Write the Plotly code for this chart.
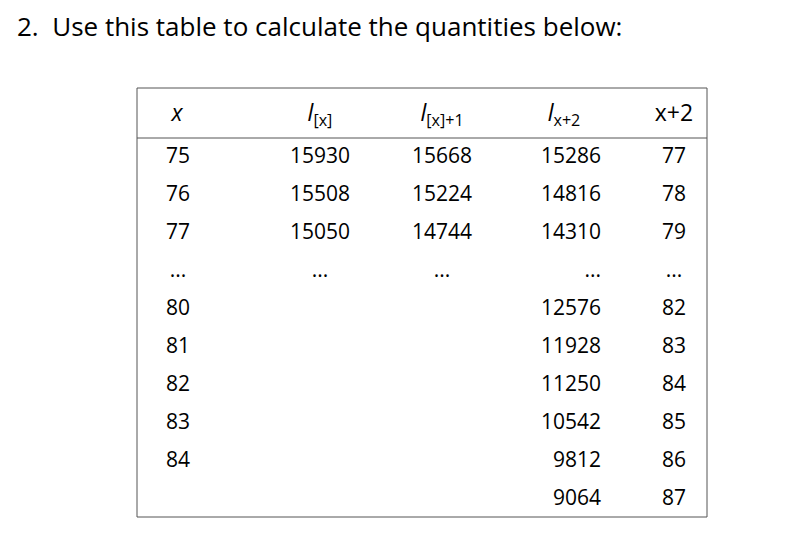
import plotly.graph_objects as go

# table values
x_col = ["75", "76", "77", "...", "80", "81", "82", "83", "84", ""]
lx_col = ["15930", "15508", "15050", "...", "", "", "", "", "", ""]
lx1_col = ["15668", "15224", "14744", "...", "", "", "", "", "", ""]
lx2_col = ["15286", "14816", "14310", "...", "12576", "11928", "11250", "10542", "9812", "9064"]
x2_col = ["77", "78", "79", "...", "82", "83", "84", "85", "86", "87"]
headers = ["<i>x</i>", "", "<i>l</i><sub>[x]</sub>", "", "<i>l</i><sub>[x]+1</sub>", "",
           "<i>l</i><sub>x+2</sub>", "", "x+2<sub> </sub>"]

W, H = 800, 534
off = 8  # page body margin
def px(v):
    return (v - off) / W
def py(v):
    return 1 - (v - off) / H

x0, x1, y0, y1 = 137, 707, 88, 517
blank = [""] * len(x_col)
cols = [x_col, blank, lx_col, blank, lx1_col, blank, lx2_col, blank, x2_col]
widths = [82, 58, 86, 36, 86, 34, 90, 32, 66]
cell_align = ["center"] * 6 + ["right", "center", "center"]

fig = go.Figure(go.Table(
    domain=dict(x=[px(x0), px(x1)], y=[py(y1), py(y0)]),
    columnwidth=widths,
    header=dict(values=headers, height=50, align="center",
                fill_color="white", line=dict(color="white", width=0),
                font=dict(family="Open Sans", size=23, color="black")),
    cells=dict(values=cols, height=38, align=cell_align,
               fill_color="white", line=dict(color="white", width=0),
               font=dict(family="Open Sans", size=21, color="black")),
))

# outer border and header rule
fig.add_shape(type="rect", xref="paper", yref="paper", x0=px(x0), x1=px(x1),
              y0=py(y1), y1=py(y0), line=dict(color="#555", width=1))
fig.add_shape(type="line", xref="paper", yref="paper", x0=px(x0), x1=px(x1),
              y0=py(138), y1=py(138), line=dict(color="#555", width=1))

fig.add_annotation(text="2.  Use this table to calculate the quantities below:",
                   xref="paper", yref="paper", x=px(15), y=py(26),
                   xanchor="left", yanchor="middle", showarrow=False,
                   font=dict(family="Open Sans", size=26, color="black"))

fig.update_layout(width=W, height=H, margin=dict(l=0, r=0, t=0, b=0),
                  paper_bgcolor="white", plot_bgcolor="white")
fig.write_html("out.html")
